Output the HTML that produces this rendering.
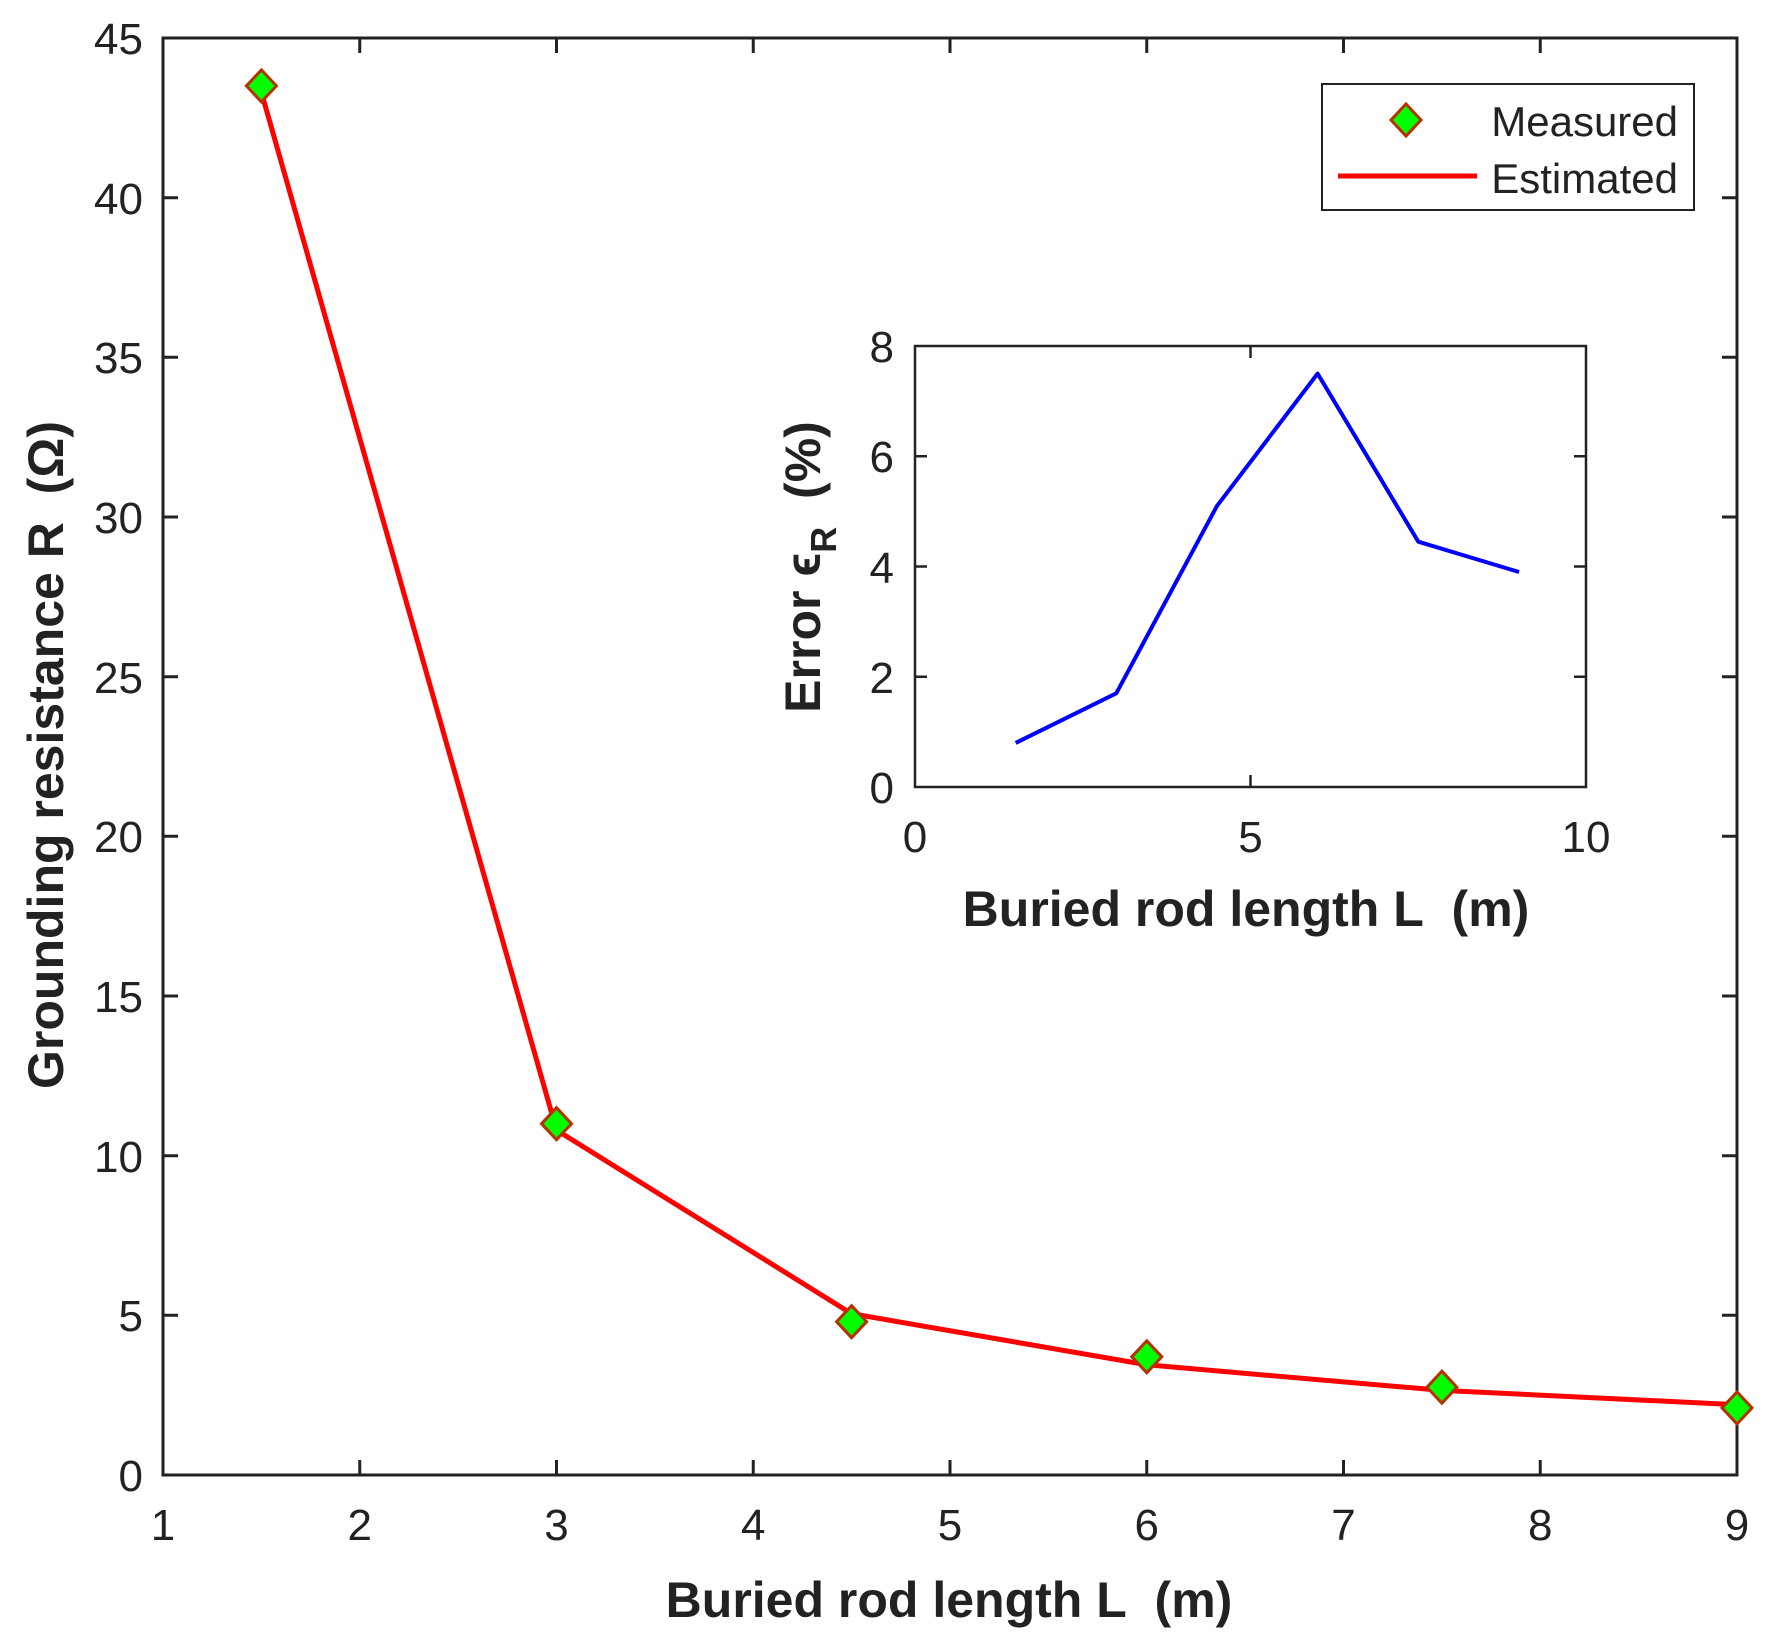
<!DOCTYPE html>
<html><head><style>body{margin:0;background:#fff}svg{display:block}</style></head><body>
<svg width="1777" height="1651" viewBox="0 0 1777 1651" xmlns="http://www.w3.org/2000/svg" font-family="Liberation Sans, sans-serif" fill="#222">
<rect width="1777" height="1651" fill="#fff"/>
<g stroke="#222" stroke-width="3" fill="none">
<rect x="163" y="38" width="1574" height="1437"/>
<path d="M359.75 1475v-15M556.5 1475v-15M753.25 1475v-15M950 1475v-15M1146.75 1475v-15M1343.5 1475v-15M1540.25 1475v-15
M359.75 38v15M556.5 38v15M753.25 38v15M950 38v15M1146.75 38v15M1343.5 38v15M1540.25 38v15
M163 1315.3h15M163 1155.7h15M163 996h15M163 836.3h15M163 676.7h15M163 517h15M163 357.3h15M163 197.7h15
M1737 1315.3h-15M1737 1155.7h-15M1737 996h-15M1737 836.3h-15M1737 676.7h-15M1737 517h-15M1737 357.3h-15M1737 197.7h-15"/>
</g>
<g font-size="44" text-anchor="middle">
<text x="163" y="1540">1</text><text x="359.75" y="1540">2</text><text x="556.5" y="1540">3</text><text x="753.25" y="1540">4</text><text x="950" y="1540">5</text><text x="1146.75" y="1540">6</text><text x="1343.5" y="1540">7</text><text x="1540.25" y="1540">8</text><text x="1737" y="1540">9</text>
</g>
<g font-size="44" text-anchor="end">
<text x="143" y="1491">0</text><text x="143" y="1331">5</text><text x="143" y="1172">10</text><text x="143" y="1012">15</text><text x="143" y="852">20</text><text x="143" y="693">25</text><text x="143" y="533">30</text><text x="143" y="373">35</text><text x="143" y="214">40</text><text x="143" y="54">45</text>
</g>
<text x="949" y="1617" font-size="50" font-weight="bold" text-anchor="middle">Buried rod length L&#160;&#160;(m)</text>
<text transform="translate(63,755) rotate(-90)" font-size="50" font-weight="bold" text-anchor="middle">Grounding resistance R&#160;&#160;(Ω)</text>
<polyline fill="none" stroke="#ff0000" stroke-width="5" stroke-linejoin="round" points="261.4,92.3 556.5,1130.1 851.6,1313.7 1146.8,1364.8 1441.9,1390.4 1737,1404.7"/>
<g fill="#00ff00" stroke="#b83000" stroke-width="3">
<path d="M261.4 69.9l15 16-15 16-15-16z"/>
<path d="M556.5 1107.7l15 16-15 16-15-16z"/>
<path d="M851.6 1305.7l15 16-15 16-15-16z"/>
<path d="M1146.8 1340.8l15 16-15 16-15-16z"/>
<path d="M1441.9 1371.2l15 16-15 16-15-16z"/>
<path d="M1737 1391.9l15 16-15 16-15-16z"/>
</g>
<rect x="1322" y="84" width="372" height="126" fill="#fff" stroke="#222" stroke-width="2"/>
<path d="M1406 104l15 16-15 16-15-16z" fill="#00ff00" stroke="#b83000" stroke-width="3"/>
<line x1="1338" y1="176" x2="1477" y2="176" stroke="#ff0000" stroke-width="5"/>
<text x="1678" y="136" font-size="42" text-anchor="end">Measured</text>
<text x="1678" y="193" font-size="42" text-anchor="end">Estimated</text>
<rect x="915" y="346" width="671" height="441" fill="#fff" stroke="#222" stroke-width="2.5"/>
<g stroke="#222" stroke-width="2.5">
<path d="M1250.5 787v-12M1250.5 346v12M915 676.75h12M915 566.5h12M915 456.25h12M1586 676.75h-12M1586 566.5h-12M1586 456.25h-12"/>
</g>
<polyline fill="none" stroke="#0000ff" stroke-width="4" stroke-linejoin="round" points="1015.7,742.9 1116.3,693.3 1217,505.9 1317.6,373.6 1418.3,541.7 1519,572"/>
<g font-size="44" text-anchor="middle">
<text x="915" y="852">0</text><text x="1250.5" y="852">5</text><text x="1586" y="852">10</text>
</g>
<g font-size="44" text-anchor="end">
<text x="894" y="803">0</text><text x="894" y="693">2</text><text x="894" y="583">4</text><text x="894" y="472">6</text><text x="894" y="362">8</text>
</g>
<text x="1246" y="926" font-size="50" font-weight="bold" text-anchor="middle">Buried rod length L&#160;&#160;(m)</text>
<text transform="translate(820,567) rotate(-90)" font-size="50" font-weight="bold" text-anchor="middle">Error ϵ<tspan font-size="36" dy="16">R</tspan><tspan dy="-16">&#160;&#160;(%)</tspan></text>
</svg>
</body></html>
